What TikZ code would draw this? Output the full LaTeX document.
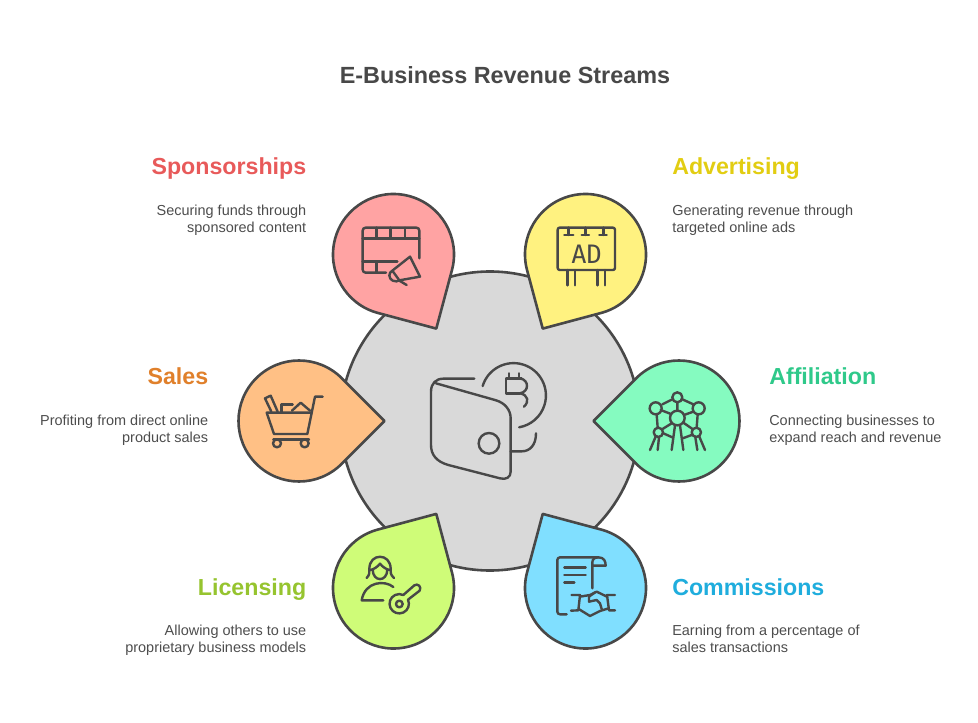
\documentclass[tikz,border=0pt]{standalone}
\usepackage{fontspec}
\setmainfont{Liberation Sans}
\newfontfamily\admono{DejaVu Sans Mono}
\definecolor{ink}{HTML}{484848}
\definecolor{txt}{HTML}{4D4D4D}
\definecolor{hub}{HTML}{D9D9D9}
\definecolor{redF}{HTML}{FFA3A3}\definecolor{redT}{HTML}{E85A5A}
\definecolor{yelF}{HTML}{FFF280}\definecolor{yelT}{HTML}{E2CD12}
\definecolor{grnF}{HTML}{85FBC0}\definecolor{grnT}{HTML}{2FC98A}
\definecolor{oraF}{HTML}{FFC085}\definecolor{oraT}{HTML}{E0802B}
\definecolor{limF}{HTML}{CFFC78}\definecolor{limT}{HTML}{96C42F}
\definecolor{bluF}{HTML}{80DFFF}\definecolor{bluT}{HTML}{1FADDD}
\tikzset{
  shapeline/.style={draw=ink,line width=1.95pt,line join=round},
  iconline/.style={draw=ink,line width=1.8pt,line cap=round,line join=round},
  heading/.style={font=\fontsize{17.4}{21}\selectfont\bfseries,inner sep=0pt},
  descr/.style={font=\fontsize{10.85}{12.75}\selectfont,text=txt,inner sep=0pt},
}
\newcommand\petal[4]{\draw[shapeline,fill=#4] (#1,#2) ++(#3:85.56) -- ++(#3+135:60.5) arc[start angle=#3+45,delta angle=270,radius=60.5] -- cycle;}
\begin{document}
\begin{tikzpicture}[x=.75pt,y=-.75pt]
\useasboundingbox (0,0) rectangle (978,723);
\node[font=\fontsize{17.55}{20}\selectfont\bfseries,text=ink,inner sep=0pt,anchor=base] (title) at (505,84) {E-Business Revenue Streams};
\draw[shapeline,fill=hub] (490,421) circle[radius=149.5];
\petal{393.5}{254.5}{60}{redF}
\petal{585.5}{254.5}{120}{yelF}
\petal{679}{421}{180}{grnF}
\petal{299}{421}{0}{oraF}
\petal{393.5}{588}{-60}{limF}
\petal{585.5}{588}{-120}{bluF}

\node[heading,text=redT,anchor=base east] (h1) at (306.5,175) {Sponsorships};
\node[descr,align=right,anchor=north east] (d1) at (306.5,204.5) {Securing funds through\\sponsored content};
\node[heading,text=yelT,anchor=base west] (h2) at (672,175) {Advertising};
\node[descr,align=left,anchor=north west] (d2) at (672,204.5) {Generating revenue through\\targeted online ads};
\node[heading,text=oraT,anchor=base east] (h3) at (208.5,385) {Sales};
\node[descr,align=right,anchor=north east] (d3) at (208.5,414.5) {Profiting from direct online\\product sales};
\node[heading,text=grnT,anchor=base west] (h4) at (769,385) {Affiliation};
\node[descr,align=left,anchor=north west] (d4) at (769,414.5) {Connecting businesses to\\expand reach and revenue};
\node[heading,text=limT,anchor=base east] (h5) at (306.5,595) {Licensing};
\node[descr,align=right,anchor=north east] (d5) at (306.5,624.5) {Allowing others to use\\proprietary business models};
\node[heading,text=bluT,anchor=base west] (h6) at (672,595) {Commissions};
\node[descr,align=left,anchor=north west] (d6) at (672,624.5) {Earning from a percentage of\\sales transactions};

% sponsorship icon
\begin{scope}[shift={(320,180)},x=.25pt,y=-.25pt,iconline]
\draw[rounded corners=2.2pt] (298,235) -- (298,143) -- (128,143) -- (128,278) -- (198,278);
\draw (128,176) -- (298,176);
\draw (170,143) -- (170,176) (212,143) -- (212,176) (255,143) -- (255,176);
\draw (128,244) -- (232,244) (170,244) -- (170,278);
\draw (217,272) -- (270,230) -- (300,290) -- (238,301) -- cycle;
\draw (217,272) .. controls (205,278) and (205,295) .. (218,302) .. controls (226,306) and (233,304) .. (238,301);
\draw (238,302) -- (260,315);
\end{scope}
% advertising icon
\begin{scope}[shift={(515,180)},x=.25pt,y=-.25pt,iconline]
\draw[rounded corners=1.5pt] (128,143) rectangle (300,270);
\draw (148,165) -- (175,165) (200,165) -- (222,165) (253,165) -- (275,165);
\draw (160,143) -- (160,165) (212,143) -- (212,165) (265,143) -- (265,165);
\draw (157,270) -- (157,316) (180,270) -- (180,316) (247,270) -- (247,316) (270,270) -- (270,316);
\node[font=\fontsize{19}{19}\selectfont\admono,text=ink,inner sep=0pt,anchor=base] (adtext) at (215,250) {AD};
\end{scope}
% affiliation icon
\begin{scope}[shift={(590,350)},x=.25pt,y=-.25pt,iconline]
\draw (262,142) circle[radius=15] (197,175) circle[radius=18] (326,175) circle[radius=18] (262,204) circle[radius=22] (205,247) circle[radius=14] (319,247) circle[radius=14];
\draw (217,163) -- (247,148) (277,148) -- (310,163) (262,157) -- (262,182);
\draw (212,180) -- (243,192) (310,185) -- (282,195);
\draw (200,193) -- (203,233) (323,193) -- (320,233);
\draw (245,220) -- (216,238) (280,218) -- (309,238);
\draw (197,260) -- (180,300) (207,262) -- (203,300) (316,262) -- (322,300) (328,260) -- (345,300);
\draw (255,226) -- (245,300) (270,226) -- (280,300);
\draw (220,250) -- (247,262) (305,255) -- (278,265);
\end{scope}
% sales icon
\begin{scope}[shift={(230,350)},x=.25pt,y=-.25pt,iconline]
\draw (278,140) -- (255,140) -- (232,252) -- (132,252) -- (110,188) -- (243,188);
\draw (130,268) -- (237,268);
\draw (141,280) circle[radius=12] (224,280) circle[radius=12];
\draw (124,185) -- (105,145) -- (122,137) -- (143,185);
\draw (155,185) -- (155,163) -- (188,163);
\draw (186,182) -- (212,158) -- (240,182);
\end{scope}
% licensing icon
\begin{scope}[shift={(320,505)},x=.25pt,y=-.25pt,iconline]
\draw (140,219) .. controls (150,208) and (148,202) .. (148,192) .. controls (148,143) and (212,143) .. (212,192) .. controls (212,202) and (210,208) .. (222,219);
\draw (148,196) .. controls (162,193) and (172,186) .. (180,176) .. controls (188,186) and (198,193) .. (212,196);
\draw (158,193) .. controls (158,232) and (202,232) .. (202,193);
\draw (220,246) .. controls (195,225) and (135,228) .. (125,286) -- (190,286);
\draw (264,284) arc[start angle=-25,delta angle=320,radius=29] -- (283,241) .. controls (293,234) and (306,245) .. (299,257) -- cycle;
\draw (238,297) circle[radius=10];
\end{scope}
% commissions icon
\begin{scope}[shift={(515,505)},x=.25pt,y=-.25pt,iconline]
\draw[rounded corners=2pt] (155,328) -- (127,328) -- (127,157) -- (250,157);
\draw (232,250) -- (232,172) .. controls (232,162) and (240,157) .. (250,157) .. controls (268,157) and (272,170) .. (272,182) -- (234,182);
\draw (148,187) -- (212,187) (148,210) -- (212,210) (148,232) -- (178,232);
\draw (170,270) -- (195,270) -- (190,316) -- (168,317);
\draw (300,270) -- (276,270) -- (282,316) -- (300,316);
\draw (195,275) -- (225,270) -- (245,260) -- (276,275);
\draw (191,312) -- (225,333) -- (255,318) -- (281,310);
\draw (240,262) -- (222,275) -- (222,290) -- (245,285) -- (255,295) -- (260,312);
\end{scope}
% wallet icon
\begin{scope}[shift={(420,350)},x=.25pt,y=-.25pt,iconline]
\draw (48,100) -- (225,150) .. controls (255,158) and (272,180) .. (272,205) -- (272,365) .. controls (272,382) and (258,390) .. (240,385) -- (85,345) .. controls (50,335) and (33,315) .. (33,285) -- (33,125) .. controls (33,100) and (48,86) .. (70,86) -- (163,86);
\draw (207,280) circle[radius=31];
\draw (272,304) -- (305,304) .. controls (330,304) and (348,285) .. (348,250);
\draw (188,108) arc[start angle=197,delta angle=243,radius=97];
\draw (267,70) -- (267,85) (297,70) -- (297,85);
\draw (305,85) -- (258,85) -- (258,130) -- (300,130);
\draw (300,85) .. controls (328,90) and (328,125) .. (300,130) .. controls (325,135) and (328,155) .. (312,170);
\end{scope}
\end{tikzpicture}
\end{document}
